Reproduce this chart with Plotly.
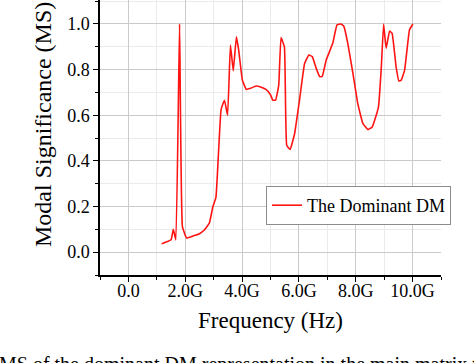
import plotly.graph_objects as go

freq_g = [1.17, 1.50, 1.58, 1.67, 1.80, 1.90, 2.05, 2.30, 2.50, 2.68, 2.85, 2.97, 3.08, 3.26,
          3.38, 3.49, 3.59, 3.69, 3.80, 3.88, 4.01, 4.15, 4.30, 4.49, 4.65, 4.84, 5.00, 5.08,
          5.18, 5.29, 5.37, 5.49, 5.57, 5.69, 5.85, 6.02, 6.20, 6.35, 6.47, 6.61, 6.73, 6.82,
          6.96, 7.19, 7.34, 7.48, 7.58, 7.72, 7.90, 8.07, 8.25, 8.43, 8.58, 8.72, 8.80, 8.90,
          8.98, 9.07, 9.19, 9.28, 9.42, 9.52, 9.60, 9.72, 9.89, 10.01]
ms = [0.037, 0.054, 0.100, 0.054, 1.000, 0.112, 0.062, 0.072, 0.081, 0.098, 0.128, 0.198, 0.240, 0.625,
      0.666, 0.600, 0.908, 0.795, 0.944, 0.886, 0.754, 0.713, 0.718, 0.728, 0.724, 0.713, 0.690, 0.666,
      0.666, 0.732, 0.940, 0.900, 0.469, 0.450, 0.520, 0.666, 0.827, 0.864, 0.857, 0.805, 0.769, 0.770,
      0.842, 0.915, 0.996, 1.000, 0.990, 0.915, 0.784, 0.652, 0.564, 0.537, 0.549, 0.600, 0.637, 0.812,
      1.000, 0.893, 0.969, 0.959, 0.812, 0.750, 0.754, 0.798, 0.974, 1.000]

x_tickvals = [0, 2, 4, 6, 8, 10]
x_ticktext = ["0.0", "2.0G", "4.0G", "6.0G", "8.0G", "10.0G"]
y_tickvals = [0.0, 0.2, 0.4, 0.6, 0.8, 1.0]
y_ticktext = ["0.0", "0.2", "0.4", "0.6", "0.8", "1.0"]
series_name = "The Dominant DM"
x_title = "Frequency (Hz)"
y_title = "Modal Significance (MS)"
caption = "MS of the dominant DM representation in the main matrix t"

FONT = "Liberation Serif, Times New Roman, serif"
PLOT_H = 275.0
PLOT_W = 341.0

fig = go.Figure()
fig.add_trace(go.Scatter(x=freq_g, y=ms, mode="lines", name=series_name,
                         line=dict(color="#ff1414", width=1.6), line_shape="spline",
                         line_smoothing=0.3))

fig.update_layout(
    width=474, height=363,
    margin=dict(l=100, r=33, t=0, b=88, autoexpand=False),
    paper_bgcolor="white", plot_bgcolor="white",
    font=dict(family=FONT, color="black"),
    showlegend=True,
    legend=dict(x=(266 - 100) / PLOT_W, y=(PLOT_H - 186) / PLOT_H, xanchor="left", yanchor="top",
                bgcolor="white", bordercolor="#8c8c8c", borderwidth=1,
                font=dict(family=FONT, size=18, color="black"),
                tracegroupgap=0, itemwidth=30),
    annotations=[
        dict(text=y_title, xref="paper", yref="paper",
             x=(43 - 100) / PLOT_W, y=(PLOT_H - 125) / PLOT_H, xanchor="center", yanchor="middle",
             textangle=-90, showarrow=False, font=dict(family=FONT, size=24, color="black")),
        dict(text=caption, xref="paper", yref="paper",
             x=(-3 - 100) / PLOT_W, y=-(351 - PLOT_H) / PLOT_H, xanchor="left", yanchor="top",
             showarrow=False, font=dict(family=FONT, size=20, color="black")),
    ],
)

fig.update_xaxes(
    range=[-1.0, 11.0], tickvals=x_tickvals, ticktext=x_ticktext,
    tickfont=dict(family=FONT, size=18), ticks="outside", ticklen=5, tickcolor="black",
    ticklabelstandoff=-6,
    showline=True, linecolor="black", linewidth=1.5, mirror=False,
    showgrid=True, gridcolor="#cacaca", gridwidth=1, zeroline=False,
    minor=dict(dtick=1, tick0=-1, ticks="outside", ticklen=3, tickcolor="black",
               showgrid=True, gridcolor="#ebebeb", gridwidth=1),
    title=dict(text=x_title, font=dict(family=FONT, size=23), standoff=12),
)
fig.update_yaxes(
    range=[-0.1, 1.105], tickvals=y_tickvals, ticktext=y_ticktext,
    tickfont=dict(family=FONT, size=18), ticks="outside", ticklen=5, tickcolor="black",
    showline=True, linecolor="black", linewidth=1.5, mirror=False,
    showgrid=True, gridcolor="#cacaca", gridwidth=1, zeroline=False,
    minor=dict(dtick=0.1, tick0=0, ticks="outside", ticklen=3, tickcolor="black",
               showgrid=True, gridcolor="#ebebeb", gridwidth=1),
)

fig.write_html("out.html", config={"displayModeBar": False},
               post_script="document.body.style.margin='0';document.body.style.padding='0';")
